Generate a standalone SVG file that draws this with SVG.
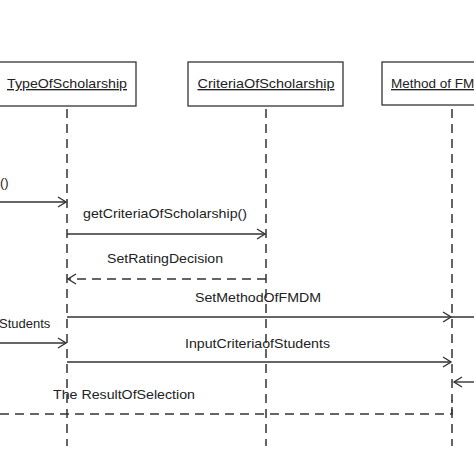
<svg xmlns="http://www.w3.org/2000/svg" width="474" height="474" viewBox="0 0 474 474">
<style>
.box{fill:#fff;stroke:#333;stroke-width:1.3}
.title{font-family:"Liberation Sans",Arial,sans-serif;font-size:13.5px;fill:#222;text-decoration:underline}
.lbl{font-family:"Liberation Sans",Arial,sans-serif;font-size:13px;fill:#222}
.life{stroke:#333;stroke-width:1.5;stroke-dasharray:9 6;fill:none}
.msg{stroke:#333;stroke-width:1.4;fill:none}
.ret{stroke:#333;stroke-width:1.4;stroke-dasharray:9 6;fill:none}
.head{stroke:#333;stroke-width:1.4;fill:none}
</style>
<rect width="474" height="474" fill="#fff"/>
<g id="node-type">
<rect class="box" x="-2" y="62" width="138" height="44"/>
<text class="title" x="67" y="88" text-anchor="middle" textLength="120" lengthAdjust="spacingAndGlyphs">TypeOfScholarship</text>
</g>
<g id="node-criteria">
<rect class="box" x="188" y="62" width="155" height="44"/>
<text class="title" x="266" y="88" text-anchor="middle" textLength="137" lengthAdjust="spacingAndGlyphs">CriteriaOfScholarship</text>
</g>
<g id="node-method">
<rect class="box" x="382" y="62" width="100" height="43"/>
<text class="title" x="391" y="88">Method of FMDM</text>
</g>
<g id="lifelines">
<line class="life" x1="67" y1="109" x2="67" y2="446"/>
<line class="life" x1="266" y1="109" x2="266" y2="446"/>
<line class="life" x1="452" y1="109" x2="452" y2="446"/>
</g>
<g id="connectors">
<line class="msg" x1="0" y1="202" x2="66" y2="202"/>
<polyline class="head" points="58,197 66,202 58,207"/>
<line class="msg" x1="67" y1="234" x2="265" y2="234"/>
<polyline class="head" points="257,229 265,234 257,239"/>
<line class="ret" x1="266" y1="279" x2="68" y2="279"/>
<polyline class="head" points="76,274 68,279 76,284"/>
<line class="msg" x1="67" y1="317" x2="474" y2="317" stroke="#777" stroke-width="2"/>
<polyline class="head" points="443,312 451,317 443,322"/>
<line class="msg" x1="0" y1="343" x2="66" y2="343"/>
<polyline class="head" points="58,338 66,343 58,348"/>
<line class="msg" x1="67" y1="362" x2="451" y2="362"/>
<polyline class="head" points="443,357 451,362 443,367"/>
<line class="msg" x1="474" y1="382" x2="454" y2="382"/>
<polyline class="head" points="462,377 454,382 462,387"/>
<polyline class="ret" points="0,414 452,414 452,400"/>
</g>
<g id="labels">
<text class="lbl" x="0" y="187">()</text>
<text class="lbl" x="83" y="218" textLength="164" lengthAdjust="spacingAndGlyphs">getCriteriaOfScholarship()</text>
<text class="lbl" x="107" y="263" textLength="116" lengthAdjust="spacingAndGlyphs">SetRatingDecision</text>
<text class="lbl" x="195" y="302" textLength="126" lengthAdjust="spacingAndGlyphs">SetMethodOfFMDM</text>
<text class="lbl" x="-1" y="328">Students</text>
<text class="lbl" x="185" y="348" textLength="145" lengthAdjust="spacingAndGlyphs">InputCriteriaofStudents</text>
<text class="lbl" x="53" y="399" textLength="142" lengthAdjust="spacingAndGlyphs">The ResultOfSelection</text>
</g>
</svg>
